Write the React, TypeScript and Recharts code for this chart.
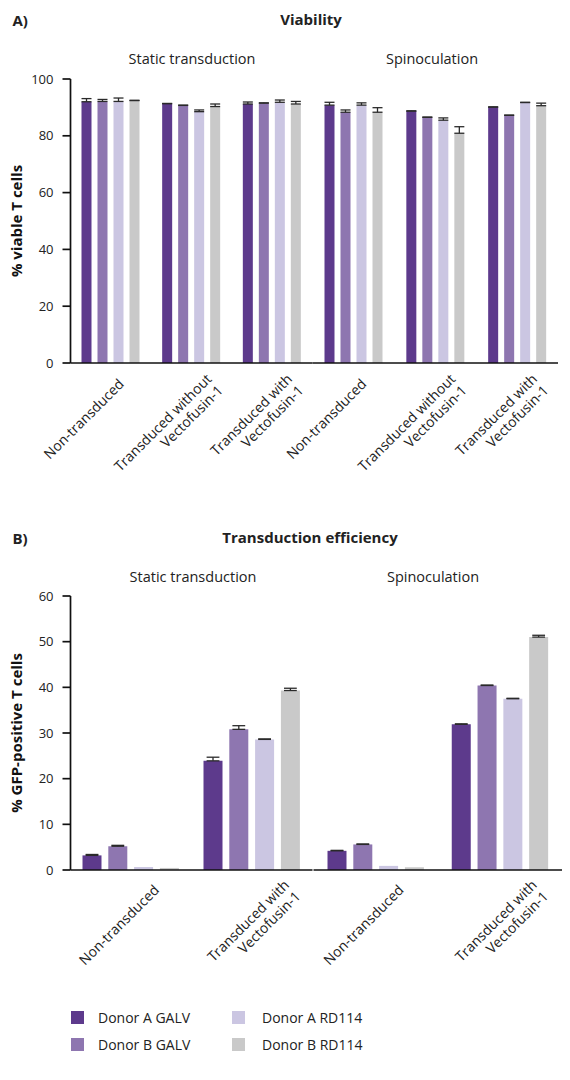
import { BarChart, Bar, XAxis, YAxis, ErrorBar } from "recharts";

const FONT = '"Open Sans", sans-serif';

const SERIES = ["Donor A GALV", "Donor B GALV", "Donor A RD114", "Donor B RD114"];
const KEYS = ["aGalv", "bGalv", "aRd", "bRd"];
const COLORS = ["#5d3a8c", "#8e76b0", "#cbc6e2", "#c9c9c9"];

// A) viability: 3 static transduction groups, then 3 spinoculation groups
const VIAB_CATS = ["Non-transduced", "Transduced without\nVectofusin-1", "Transduced with\nVectofusin-1"];
const VIAB_A_GALV = [92.0, 91.3, 91.2, 90.8, 88.7, 90.1];
const VIAB_B_GALV = [92.1, 90.7, 91.5, 88.3, 86.5, 87.2];
const VIAB_A_RD114 = [92.1, 88.5, 91.8, 90.8, 85.5, 91.7];
const VIAB_B_RD114 = [92.4, 90.3, 91.2, 88.3, 80.9, 90.6];
const VIAB_A_GALV_ERR = [1.1, 0.1, 0.7, 1.0, 0.1, 0.1];
const VIAB_B_GALV_ERR = [0.7, 0.1, 0.1, 0.8, 0.1, 0.1];
const VIAB_A_RD114_ERR = [1.2, 0.6, 0.8, 0.8, 0.8, 0.1];
const VIAB_B_RD114_ERR = [0.1, 0.9, 0.9, 1.6, 2.3, 0.9];
const VIAB_TICKS = [0, 20, 40, 60, 80, 100];

// B) transduction efficiency: 2 static groups, then 2 spinoculation groups
const GFP_CATS = ["Non-transduced", "Transduced with\nVectofusin-1"];
const GFP_A_GALV = [3.2, 23.9, 4.2, 31.9];
const GFP_B_GALV = [5.2, 30.8, 5.6, 40.4];
const GFP_A_RD114 = [0.65, 28.6, 0.9, 37.5];
const GFP_B_RD114 = [0.45, 39.3, 0.6, 51.0];
const GFP_A_GALV_ERR = [0.2, 0.8, 0.1, 0.1];
const GFP_B_GALV_ERR = [0.2, 0.8, 0.1, 0.1];
const GFP_A_RD114_ERR = [null, 0.1, null, 0.1];
const GFP_B_RD114_ERR = [null, 0.5, null, 0.4];
const GFP_TICKS = [0, 10, 20, 30, 40, 50, 60];

function buildRows(cats: string[], vals: number[][], errs: (number | null)[][], start: number) {
  return cats.map((name, i) => {
    const row: any = { name };
    KEYS.forEach((k, s) => {
      row[k] = vals[s][start + i];
      const e = errs[s][start + i];
      row[k + "Err"] = e == null ? null : [0, e];
    });
    return row;
  });
}

const viabVals = [VIAB_A_GALV, VIAB_B_GALV, VIAB_A_RD114, VIAB_B_RD114];
const viabErrs = [VIAB_A_GALV_ERR, VIAB_B_GALV_ERR, VIAB_A_RD114_ERR, VIAB_B_RD114_ERR];
const gfpVals = [GFP_A_GALV, GFP_B_GALV, GFP_A_RD114, GFP_B_RD114];
const gfpErrs = [GFP_A_GALV_ERR, GFP_B_GALV_ERR, GFP_A_RD114_ERR, GFP_B_RD114_ERR];

// rotated category label, right end of first line sits below-right of the band centre
function RotatedTick(props: any) {
  const { x, y, payload, off } = props;
  const lines = String(payload.value).split("\n");
  const [dx, dy] = lines.length > 1 ? off.multi : off.single;
  return (
    <g transform={`translate(${x + dx},${y + dy}) rotate(-45)`}>
      {lines.map((t, i) => (
        <text key={i} x={0} y={i * 16} textAnchor="end" fontSize={14} fill="#222">
          {t}
        </text>
      ))}
    </g>
  );
}

function Panel(props: any) {
  const { data, left, top, width, height, margin, axisH, yWidth, domain, ticks, yLabel, barSize, barGap, capW, off } = props;
  return (
    <div style={{ position: "absolute", left, top }}>
      <BarChart width={width} height={height} data={data} margin={margin} barSize={barSize} barGap={barGap}>
        <XAxis
          dataKey="name"
          height={axisH}
          interval={0}
          tickLine={false}
          tickSize={0}
          tickMargin={0}
          axisLine={{ stroke: "#111", strokeWidth: 1.7 }}
          tick={(p: any) => <RotatedTick {...p} off={off} />}
        />
        {yLabel ? (
          <YAxis
            width={yWidth}
            domain={domain}
            ticks={ticks}
            interval={0}
            tickSize={8}
            tickMargin={9}
            axisLine={{ stroke: "#111", strokeWidth: 1.7 }}
            tickLine={{ stroke: "#111", strokeWidth: 1.7 }}
            tick={{ fill: "#222", fontSize: 13 }}
            label={{ value: yLabel, angle: -90, position: "center", dx: -19, fill: "#111", fontSize: 15, fontWeight: 700 }}
          />
        ) : (
          <YAxis width={0} domain={domain} ticks={ticks} tick={false} tickLine={false} axisLine={{ stroke: "#111", strokeWidth: 1.7 }} />
        )}
        {KEYS.map((k, s) => (
          <Bar key={k} dataKey={k} name={SERIES[s]} fill={COLORS[s]} isAnimationActive={false}>
            <ErrorBar dataKey={k + "Err"} width={capW} stroke="#2a2a2a" strokeWidth={1.3} direction="y" />
          </Bar>
        ))}
      </BarChart>
    </div>
  );
}

function Txt({ x, y, children, size = 14.5, bold = false, center = true }: any) {
  return (
    <div
      style={{
        position: "absolute",
        left: x,
        top: y,
        transform: center ? "translate(-50%, -50%)" : "translate(0, -50%)",
        fontSize: size,
        fontWeight: bold ? 700 : 400,
        color: "#222",
        whiteSpace: "nowrap",
        lineHeight: 1,
      }}
    >
      {children}
    </div>
  );
}

export default function App() {
  const viabStatic = buildRows(VIAB_CATS, viabVals, viabErrs, 0);
  const viabSpin = buildRows(VIAB_CATS, viabVals, viabErrs, 3);
  const gfpStatic = buildRows(GFP_CATS, gfpVals, gfpErrs, 0);
  const gfpSpin = buildRows(GFP_CATS, gfpVals, gfpErrs, 2);

  const topCommon = {
    height: 480, axisH: 117, domain: [0, 100], ticks: VIAB_TICKS,
    barSize: 10, barGap: 6, capW: 5,
    off: { single: [14, 22], multi: [21, 17] },
  };
  const botCommon = {
    height: 480, axisH: 110, domain: [0, 60], ticks: GFP_TICKS,
    barSize: 19, barGap: 6.8, capW: 6.4,
    off: { single: [29, 21], multi: [38, 16] },
  };

  // legend is column-major: GALV in the first column, RD114 in the second
  const legendOrder = [0, 1, 2, 3];

  return (
    <div style={{ position: "absolute", left: 0, top: 0, width: 570, height: 1080, background: "#fff", fontFamily: FONT }}>
      <Txt x={12.5} y={20} size={15} bold center={false}>A)</Txt>
      <Txt x={311} y={19} size={15} bold>Viability</Txt>
      <Txt x={192} y={59}>Static transduction</Txt>
      <Txt x={432} y={59}>Spinoculation</Txt>

      <Panel {...topCommon} data={viabStatic} left={0} top={0} width={326} margin={{ top: 79, right: 13.5, bottom: 0, left: 0 }} yWidth={70.5} yLabel="% viable T cells" />
      <Panel {...topCommon} data={viabSpin} left={230} top={0} width={328} margin={{ top: 79, right: 0, bottom: 0, left: 82.5 }} />

      <Txt x={12.5} y={538} size={15} bold center={false}>B)</Txt>
      <Txt x={310} y={537} size={15} bold>Transduction efficiency</Txt>
      <Txt x={193} y={577}>Static transduction</Txt>
      <Txt x={433} y={577}>Spinoculation</Txt>

      <Panel {...botCommon} data={gfpStatic} left={0} top={500} width={326} margin={{ top: 96, right: 13.5, bottom: 0, left: 0 }} yWidth={70.5} yLabel="% GFP-positive T cells" />
      <Panel {...botCommon} data={gfpSpin} left={230} top={500} width={332} margin={{ top: 96, right: 0, bottom: 0, left: 83.5 }} />

      {legendOrder.map((s) => {
        const col = Math.floor(s / 2);
        const row = s % 2;
        return (
          <div
            key={s}
            style={{ position: "absolute", left: col === 0 ? 71 : 232, top: row === 0 ? 1010.5 : 1038, display: "flex", alignItems: "center", height: 13 }}
          >
            <div style={{ width: 13, height: 13, background: COLORS[s] }} />
            <span style={{ marginLeft: col === 0 ? 14 : 17, fontSize: 14, color: "#222", whiteSpace: "nowrap" }}>{SERIES[s]}</span>
          </div>
        );
      })}
    </div>
  );
}
